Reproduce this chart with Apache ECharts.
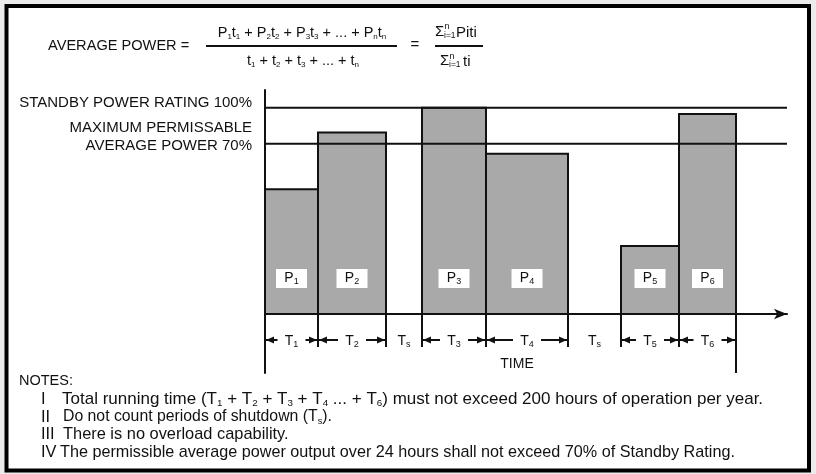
<!DOCTYPE html>
<html>
<head>
<meta charset="utf-8">
<script src="https://cdn.jsdelivr.net/npm/echarts@6/dist/echarts.min.js"></script>
<style>
  html, body { margin: 0; padding: 0; background: #ebebeb; }
  #chart { width: 816px; height: 474px; }
</style>
</head>
<body>
<div id="chart"></div>
<script>
// ---------------- data ----------------
const segLabels    = ['T1', 'T2', 'Ts', 'T3', 'T4', 'Ts', 'T5', 'T6'];
const segDurations = [53, 68, 36, 64, 82, 53, 58, 57];
const segPower     = [60.5, 88, null, 100, 77.7, null, 33, 97];   // height relative to standby line = 100
const powerLabels  = ['P1', 'P2', '', 'P3', 'P4', '', 'P5', 'P6'];
const refLevels    = [100, 82.5];   // drawn heights of the two rating lines
const refLabels    = ['STANDBY POWER RATING 100%', 'MAXIMUM PERMISSABLE\nAVERAGE POWER 70%'];
const axisName     = 'TIME';
const noteTitle    = 'NOTES:';
const noteNumerals = ['I', 'II', 'III', 'IV'];
const noteTexts    = [
  '{m|Total running time (T}{s|1}{m| + T}{s|2}{m| + T}{s|3}{m| + T}{s|4}{m| ... + T}{s|6}{m|) must not exceed 200 hours of operation per year.}',
  '{m|Do not count periods of shutdown (T}{s|s}{m|).}',
  '{m|There is no overload capability.}',
  '{m|The permissible average power output over 24 hours shall not exceed 70% of Standby Rating.}'
];
const xMax = 522, yMin = -28.6, yMax = 108.6;

// ---------------- derived ----------------
const segments = [];
let acc = 0;
segDurations.forEach((d, i) => {
  segments.push([acc, acc + d, i, i === segDurations.length - 1 ? 1 : 0]);
  acc += d;
});
const barData = segments.filter(s => segPower[s[2]] != null)
  .map(s => [s[0], s[1], segPower[s[2]], s[2]]);
const refData = refLevels.map((v, i) => [v, i]);

const FONT = 'Liberation Sans, Arial, Helvetica, sans-serif';
const INK = '#111';
function subRich(label) {
  return '{m|' + label.charAt(0) + '}{s|' + label.slice(1) + '}';
}
const labelRich = {
  m: { fontSize: 14, fontFamily: FONT, fill: INK, lineHeight: 16 },
  s: { fontSize: 9, fontFamily: FONT, fill: INK, lineHeight: 6, verticalAlign: 'bottom' }
};

function renderBar(params, api) {
  const s = api.value(0), e = api.value(1), p = api.value(2), idx = api.value(3);
  const tl = api.coord([s, p]);
  const br = api.coord([e, 0]);
  const cx = (tl[0] + br[0]) / 2;
  return {
    type: 'group',
    children: [
      { type: 'rect', shape: { x: tl[0], y: tl[1], width: br[0] - tl[0], height: br[1] - tl[1] },
        style: { fill: '#a9a9a9', stroke: INK, lineWidth: 2 } },
      { type: 'rect', shape: { x: cx - 15.5, y: br[1] - 45, width: 31, height: 19 },
        style: { fill: '#ffffff' } },
      { type: 'text', style: { x: cx, y: br[1] - 35.5, text: subRich(powerLabels[idx]), rich: labelRich,
        align: 'center', verticalAlign: 'middle' } }
    ]
  };
}

function renderAnn(params, api) {
  const s = api.value(0), e = api.value(1), idx = api.value(2), last = api.value(3);
  const ps = api.coord([s, 0]);
  const pe = api.coord([e, 0]);
  const y0 = ps[1];
  const ay = y0 + 26;
  const cx = (ps[0] + pe[0]) / 2;
  const tickEnd = last ? api.coord([e, yMin])[1] : y0 + 33;
  const children = [
    { type: 'line', shape: { x1: pe[0], y1: y0, x2: pe[0], y2: tickEnd }, style: { stroke: INK, lineWidth: 2 } }
  ];
  const lab = segLabels[idx];
  if (lab !== 'Ts') {
    const h = 8, w = 3.5, gap = 14;
    children.push(
      { type: 'line', shape: { x1: ps[0] + 1, y1: ay, x2: cx - gap, y2: ay }, style: { stroke: INK, lineWidth: 2 } },
      { type: 'polygon', shape: { points: [[ps[0] + 1, ay], [ps[0] + 1 + h, ay - w], [ps[0] + 1 + h, ay + w]] }, style: { fill: INK } },
      { type: 'line', shape: { x1: cx + gap, y1: ay, x2: pe[0] - 1, y2: ay }, style: { stroke: INK, lineWidth: 2 } },
      { type: 'polygon', shape: { points: [[pe[0] - 1, ay], [pe[0] - 1 - h, ay - w], [pe[0] - 1 - h, ay + w]] }, style: { fill: INK } }
    );
  }
  children.push({ type: 'text', style: { x: cx, y: ay + 1.5, text: subRich(lab), rich: labelRich,
    align: 'center', verticalAlign: 'middle' } });
  return { type: 'group', children };
}

function renderRef(params, api) {
  const v = api.value(0), idx = api.value(1);
  const a = api.coord([0, v]);
  const b = api.coord([xMax, v]);
  const lines = refLabels[idx].split('\n');
  const children = [
    { type: 'line', shape: { x1: a[0], y1: a[1], x2: b[0], y2: b[1] }, style: { stroke: INK, lineWidth: 2 } }
  ];
  lines.forEach((t, k) => {
    const dy = (k - (lines.length - 1)) * 18 + (lines.length > 1 ? 2 : -4.5);
    children.push({ type: 'text', style: { x: a[0] - 13, y: a[1] + dy, text: t,
      font: '15px ' + FONT, fill: INK, align: 'right', verticalAlign: 'middle' } });
  });
  return { type: 'group', children };
}

const fracRich = {
  m: { fontSize: 14.5, fontFamily: FONT, fill: INK, lineHeight: 16 },
  s: { fontSize: 8, fontFamily: FONT, fill: INK, lineHeight: 5, verticalAlign: 'bottom' }
};
function noteRich(size) {
  return {
    m: { fontSize: size, fontFamily: FONT, fill: INK, lineHeight: 18 },
    s: { fontSize: size * 0.58, fontFamily: FONT, fill: INK, lineHeight: 7, verticalAlign: 'bottom' }
  };
}
const noteSizes = [17, 15.8, 16.4, 16.2];

const graphics = [
  { type: 'rect', z: -10, shape: { x: 6.5, y: 6, width: 802.5, height: 464.5 },
    style: { fill: '#ffffff', stroke: '#000', lineWidth: 4 } },
  { type: 'text', x: 48, y: 46, style: { text: 'AVERAGE POWER =', font: '14.6px ' + FONT, fill: INK, verticalAlign: 'middle' } },
  { type: 'text', x: 302, y: 33, style: { text: '{m|P}{s|1}{m|t}{s|1}{m| + P}{s|2}{m|t}{s|2}{m| + P}{s|3}{m|t}{s|3}{m| + ... + P}{s|n}{m|t}{s|n}',
    rich: fracRich, align: 'center', verticalAlign: 'middle' } },
  { type: 'line', shape: { x1: 206, y1: 46, x2: 397, y2: 46 }, style: { stroke: INK, lineWidth: 2 } },
  { type: 'text', x: 303, y: 61, style: { text: '{m|t}{s|1}{m| + t}{s|2}{m| + t}{s|3}{m| + ... + t}{s|n}',
    rich: fracRich, align: 'center', verticalAlign: 'middle' } },
  { type: 'text', x: 415, y: 45, style: { text: '=', font: '15px ' + FONT, fill: INK, align: 'center', verticalAlign: 'middle' } },
  { type: 'line', shape: { x1: 435, y1: 46, x2: 483, y2: 46 }, style: { stroke: INK, lineWidth: 2 } },
  { type: 'text', x: 435, y: 32, style: { text: 'Σ', font: '15px ' + FONT, fill: INK, verticalAlign: 'middle' } },
  { type: 'text', x: 444.5, y: 27, style: { text: 'n', font: '9px ' + FONT, fill: INK, verticalAlign: 'middle' } },
  { type: 'text', x: 444, y: 35.5, style: { text: 'i=1', font: '8.5px ' + FONT, fill: INK, verticalAlign: 'middle' } },
  { type: 'text', x: 456, y: 33, style: { text: 'Piti', font: '15px ' + FONT, fill: INK, verticalAlign: 'middle' } },
  { type: 'text', x: 440, y: 61, style: { text: 'Σ', font: '15px ' + FONT, fill: INK, verticalAlign: 'middle' } },
  { type: 'text', x: 449.5, y: 56.5, style: { text: 'n', font: '9px ' + FONT, fill: INK, verticalAlign: 'middle' } },
  { type: 'text', x: 449, y: 64.5, style: { text: 'i=1', font: '8.5px ' + FONT, fill: INK, verticalAlign: 'middle' } },
  { type: 'text', x: 463, y: 62, style: { text: 'ti', font: '15px ' + FONT, fill: INK, verticalAlign: 'middle' } },
  { type: 'text', x: 19, y: 381, style: { text: noteTitle, font: '14.5px ' + FONT, fill: INK, verticalAlign: 'middle' } }
];
const noteY = [399.5, 417, 434.5, 452.5];
const noteX = [62, 63, 63, 60];
noteNumerals.forEach((n, i) => {
  graphics.push({ type: 'text', x: 41, y: noteY[i], style: { text: n, font: '16.4px ' + FONT, fill: INK, verticalAlign: 'middle' } });
  graphics.push({ type: 'text', x: noteX[i], y: noteY[i], style: { text: noteTexts[i], rich: noteRich(noteSizes[i]), verticalAlign: 'middle' } });
});

const chart = echarts.init(document.getElementById('chart'), null, { renderer: 'canvas' });
chart.setOption({
  animation: false,
  backgroundColor: 'transparent',
  grid: { left: 265, right: 29, top: 90, bottom: 101, containLabel: false },
  xAxis: {
    type: 'value', min: 0, max: xMax,
    name: axisName, nameLocation: 'middle', nameGap: -16,
    nameTextStyle: { fontSize: 14, fontFamily: FONT, color: INK, padding: [0, 18, 0, 0] },
    axisLine: { show: true, onZero: true, symbol: ['none', 'arrow'], symbolSize: [8, 13],
      lineStyle: { color: INK, width: 2 } },
    axisTick: { show: false }, axisLabel: { show: false }, splitLine: { show: false }
  },
  yAxis: {
    type: 'value', min: yMin, max: yMax,
    axisLine: { show: true, lineStyle: { color: INK, width: 2 } },
    axisTick: { show: false }, axisLabel: { show: false }, splitLine: { show: false }
  },
  graphic: graphics,
  series: [
    { type: 'custom', name: 'power', renderItem: renderBar, data: barData, z: 2, clip: false, silent: true },
    { type: 'custom', name: 'ratings', renderItem: renderRef, data: refData, z: 3, clip: false, silent: true },
    { type: 'custom', name: 'periods', renderItem: renderAnn, data: segments, z: 3, clip: false, silent: true }
  ]
});
</script>
</body>
</html>
